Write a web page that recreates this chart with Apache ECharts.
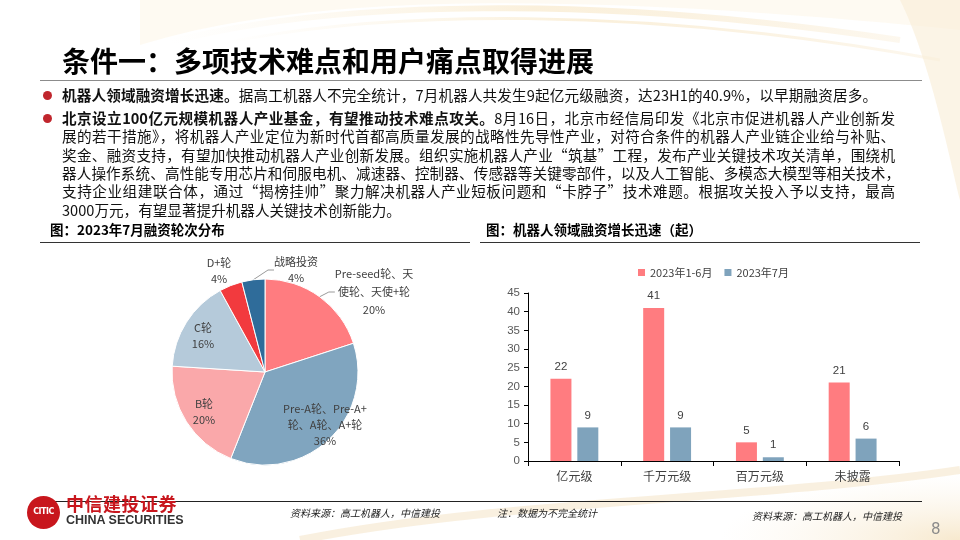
<!DOCTYPE html>
<html>
<head>
<meta charset="utf-8">
<script src="https://cdn.jsdelivr.net/npm/echarts@6/dist/echarts.min.js"></script>
<style>
  html, body { margin:0; padding:0; width:960px; height:540px; overflow:hidden; background:#fff; }
  body { position:relative; font-family:"Noto Sans CJK SC","Noto Sans",sans-serif; color:#111; }
  #bg { position:absolute; left:0; top:0; width:960px; height:540px; z-index:0; }
  #chart { position:absolute; left:0; top:0; width:960px; height:540px; z-index:1; }
  .t { position:absolute; z-index:2; white-space:nowrap; }
  .title { left:62px; top:41px; font-size:28px; font-weight:700; line-height:38px; color:#000; letter-spacing:0px; }
  .rule { position:absolute; z-index:2; height:0; }
  .line { position:absolute; z-index:2; left:62px; font-size:14.6px; line-height:18.4px; height:18.4px; white-space:nowrap; color:#111; }
  .just { text-align:justify; text-align-last:justify; }
  .dot { position:absolute; z-index:2; width:9px; height:9px; border-radius:50%; background:#C0262D; }
  b { font-weight:700; }
  .sub { position:absolute; z-index:2; font-size:13.5px; font-weight:700; line-height:18px; color:#000; white-space:nowrap; }
  .foot { position:absolute; z-index:2; font-size:10px; font-style:italic; color:#222; white-space:nowrap; line-height:14px; }
</style>
</head>
<body>
<svg id="bg" width="960" height="540" xmlns="http://www.w3.org/2000/svg">
  <defs>
    <linearGradient id="g1" x1="0" y1="0" x2="1" y2="0">
      <stop offset="0" stop-color="#fbf1dd" stop-opacity="0"/>
      <stop offset="0.5" stop-color="#f9ecd2" stop-opacity="0.8"/>
      <stop offset="1" stop-color="#f7e6c6" stop-opacity="0.3"/>
    </linearGradient>
    <radialGradient id="g2" cx="1" cy="1" r="0.6">
      <stop offset="0" stop-color="#f6e6c8" stop-opacity="0.9"/>
      <stop offset="1" stop-color="#fbf3e4" stop-opacity="0"/>
    </radialGradient>
  </defs>
  <path d="M140,45 C300,-5 560,-10 960,30 L960,0 L140,0 Z" fill="#fdf6ea" opacity="0.6"/>
  <path d="M170,42 C330,0 600,-5 900,40" stroke="url(#g1)" stroke-width="6" fill="none"/>
  <path d="M220,44 C380,10 640,5 940,60" stroke="url(#g1)" stroke-width="3" fill="none"/>
  <path d="M900,0 C930,60 950,160 960,200 L960,0 Z" fill="#f8ecd6" opacity="0.6"/>
  <rect x="560" y="430" width="400" height="110" fill="url(#g2)"/>
  <path d="M300,540 C500,500 760,500 960,470" stroke="#f7ead3" stroke-width="8" fill="none" opacity="0.7"/>
</svg>
<div id="chart"></div>

<div class="t title">条件一：多项技术难点和用户痛点取得进展</div>
<div class="rule" style="left:40px; top:80px; width:882px; border-top:1.3px solid #8c8c8c;"></div>

<div class="dot" style="left:43px; top:91px;"></div>
<div class="line just" style="top:85.8px; width:815px;"><b>机器人领域融资增长迅速。</b>据高工机器人不完全统计，7月机器人共发生9起亿元级融资，达23H1的40.9%，以早期融资居多。</div>

<div class="dot" style="left:43px; top:114px;"></div>
<div class="line just" style="top:108.8px; width:833px;"><b>北京设立100亿元规模机器人产业基金，有望推动技术难点攻关。</b>8月16日，北京市经信局印发《北京市促进机器人产业创新发</div>
<div class="line just" style="top:127.2px; width:833px;">展的若干措施》，将机器人产业定位为新时代首都高质量发展的战略性先导性产业，对符合条件的机器人产业链企业给与补贴、</div>
<div class="line just" style="top:145.6px; width:833px;">奖金、融资支持，有望加快推动机器人产业创新发展。组织实施机器人产业“筑基”工程，发布产业关键技术攻关清单，围绕机</div>
<div class="line just" style="top:164px; width:838px;">器人操作系统、高性能专用芯片和伺服电机、减速器、控制器、传感器等关键零部件，以及人工智能、多模态大模型等相关技术，</div>
<div class="line just" style="top:182.4px; width:833px;">支持企业组建联合体，通过“揭榜挂帅”聚力解决机器人产业短板问题和“卡脖子”技术难题。根据攻关投入予以支持，最高</div>
<div class="line" style="top:200.8px;">3000万元，有望显著提升机器人关键技术创新能力。</div>

<div class="sub" style="left:50px; top:220px;">图：2023年7月融资轮次分布</div>
<div class="sub" style="left:486px; top:220px;">图：机器人领域融资增长迅速（起）</div>
<div class="rule" style="left:40px; top:242px; width:430px; border-top:1px solid #333;"></div>
<div class="rule" style="left:480px; top:242px; width:440px; border-top:1px solid #333;"></div>

<div class="rule" style="left:40px; top:501px; width:882px; border-top:1.3px solid #222;"></div>

<!-- logo -->
<div style="position:absolute; z-index:3; left:27px; top:496px; width:33px; height:33px; border-radius:50%; background:#C8161D; overflow:hidden;">
  <div style="position:absolute; left:3px; top:11px; width:27px; font-size:8px; font-weight:700; color:#fff; text-align:center; letter-spacing:-0.5px; font-family:'DejaVu Sans';">CITIC</div>
</div>
<div class="t" style="left:66px; top:493px; font-size:18px; font-weight:700; color:#C8161D; line-height:21px; letter-spacing:0.5px;">中信建投证券</div>
<div class="t" style="left:66px; top:513px; font-size:12.5px; font-weight:700; color:#333; line-height:14px; font-family:'Liberation Sans Narrow','Liberation Sans',sans-serif;">CHINA SECURITIES</div>

<div class="foot" style="left:290px; top:506px;">资料来源：高工机器人，中信建投</div>
<div class="foot" style="left:497px; top:506px;">注：数据为不完全统计</div>
<div class="foot" style="left:752px; top:509px;">资料来源：高工机器人，中信建投</div>
<div class="t" style="left:931px; top:520px; font-size:15px; color:#8a8a8a; line-height:18px; font-family:'DejaVu Sans';">8</div>

<script>
// ---- data ----
const pieLabels = ['Pre-seed轮、天\n使轮、天使+轮', 'Pre-A轮、Pre-A+\n轮、A轮、A+轮', 'B轮', 'C轮', 'D+轮', '战略投资'];
const pieValues = [20, 36, 20, 16, 4, 4];
const barCategories = ['亿元级', '千万元级', '百万元级', '未披露'];
const seriesH1 = [22, 41, 5, 21];
const seriesJul = [9, 9, 1, 6];
const seriesNames = ['2023年1-6月', '2023年7月'];
const yTicks = { min: 0, max: 45, interval: 5 };

// ---- style / layout ----
const pieColors = ['#FF7C80', '#80A5BF', '#FAA8AA', '#B5CADA', '#F23A3E', '#2F6C9A'];
const labelPos = [[374, 292], [325, 425], [204, 412], [203, 336], [219, 271], [296, 270]];
const labelOutside = [true, false, false, false, true, true];
const labelLineShow = [true, false, false, false, false, true];

const chart = echarts.init(document.getElementById('chart'), null, { renderer: 'canvas' });

const pieData = pieValues.map((v, i) => ({
  value: v,
  name: pieLabels[i],
  itemStyle: { color: pieColors[i] },
  label: { position: labelOutside[i] ? 'outside' : 'inside', lineHeight: i === 0 ? 18 : 16 },
  labelLine: { show: labelLineShow[i] }
}));

chart.setOption({
  animation: false,
  legend: {
    data: seriesNames,
    left: 633, top: 262,
    itemWidth: 7, itemHeight: 7, itemGap: 12,
    icon: 'rect',
    textStyle: { fontSize: 11, color: '#404040', fontFamily: 'Noto Sans CJK SC' }
  },
  grid: { left: 528, right: 61, top: 293, bottom: 79, containLabel: false },
  xAxis: {
    type: 'category',
    data: barCategories,
    axisLine: { lineStyle: { color: '#000', width: 1 } },
    axisTick: { show: true, length: 5, lineStyle: { color: '#000' } },
    axisLabel: { fontSize: 12, color: '#404040', margin: 9, fontFamily: 'Noto Sans CJK SC' }
  },
  yAxis: {
    type: 'value',
    min: yTicks.min, max: yTicks.max, interval: yTicks.interval,
    axisLine: { show: true, lineStyle: { color: '#000', width: 1 } },
    axisTick: { show: true, length: 4, lineStyle: { color: '#000' } },
    splitLine: { show: false },
    axisLabel: { fontSize: 11.5, color: '#595959', margin: 8, fontFamily: 'Liberation Sans' }
  },
  series: [
    {
      type: 'pie',
      center: [265, 372],
      radius: 93,
      startAngle: 90,
      clockwise: true,
      percentPrecision: 0,
      itemStyle: { borderColor: '#fff', borderWidth: 1 },
      label: {
        formatter: p => p.name + '\n' + p.percent + '%',
        fontSize: 11, color: '#404040', fontFamily: 'Noto Sans CJK SC',
        align: 'center'
      },
      labelLine: { length: 8, length2: 6, lineStyle: { color: '#9a9a9a', width: 1 } },
      labelLayout: params => {
        const p = labelPos[params.dataIndex];
        return { x: p[0], y: p[1], align: 'center', verticalAlign: 'middle' };
      },
      data: pieData
    },
    {
      type: 'bar', name: seriesNames[0], data: seriesH1,
      barWidth: 21, barGap: '28%',
      itemStyle: { color: '#FF7C80' },
      label: { show: true, position: 'top', distance: 6, fontSize: 11.5, color: '#404040', fontFamily: 'Liberation Sans' }
    },
    {
      type: 'bar', name: seriesNames[1], data: seriesJul,
      barWidth: 21,
      itemStyle: { color: '#7FA3BC' },
      label: { show: true, position: 'top', distance: 6, fontSize: 11.5, color: '#404040', fontFamily: 'Liberation Sans' }
    }
  ]
});
</script>
</body>
</html>
